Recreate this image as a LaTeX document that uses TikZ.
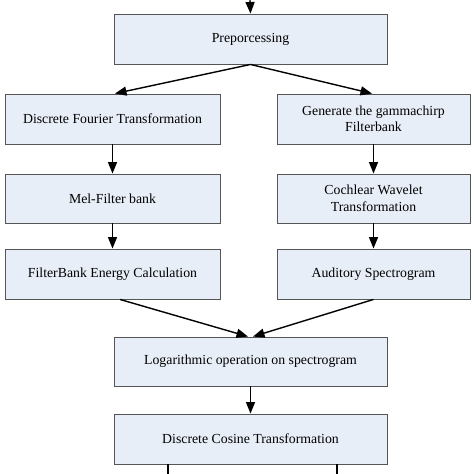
\documentclass[tikz,border=0pt]{standalone}
\usepackage{fontspec}
\setmainfont{Liberation Serif}
\usetikzlibrary{arrows.meta,calc}
\definecolor{boxfill}{HTML}{E8EEF7}
\definecolor{boxline}{HTML}{555555}
\begin{document}
\begin{tikzpicture}[x=1pt,y=-1pt,
  box/.style={draw=boxline,line width=0.9pt,fill=boxfill,minimum height=50pt,
    inner sep=0pt,align=center,font=\fontsize{13.8}{16.5}\selectfont},
  flow/.style={draw=black,line width=1.4pt,-{Triangle[length=11.5pt,width=9pt]}},
  plain/.style={draw=black,line width=1.4pt}]
\useasboundingbox (0,0) rectangle (474,474);
\node[box,minimum width=273pt] (pre) at (250.5,39) {Preporcessing};
\node[box,minimum width=215pt] (dft) at (112.5,119) {Discrete Fourier Transformation};
\node[box,minimum width=193pt] (gam) at (373.5,119) {Generate the gammachirp\\Filterbank};
\node[box,minimum width=215pt,minimum height=49pt] (mel) at (112.5,198.5) {Mel-Filter bank};
\node[box,minimum width=193pt,minimum height=49pt] (coch) at (373.5,198.5) {Cochlear Wavelet\\Transformation};
\node[box,minimum width=215pt] (fbe) at (112.5,274) {FilterBank Energy Calculation};
\node[box,minimum width=193pt] (aud) at (373.5,274) {Auditory Spectrogram};
\node[box,minimum width=273pt,minimum height=49pt] (log) at (250.5,361.5) {Logarithmic operation on spectrogram};
\node[box,minimum width=273pt] (dct) at (250.5,439) {Discrete Cosine Transformation};
\coordinate (in) at (250,0);
\coordinate (outl) at (168,474);
\coordinate (outr) at (337,474);
\draw[flow] (in) -- (pre.north);
\draw[flow] (pre.south) -- ($(dft.north)+(2.5,0)$);
\draw[flow] (pre.south) -- ($(gam.north)+(-1.5,0)$);
\draw[flow] (dft.south) -- (mel.north);
\draw[flow] (gam.south) -- (coch.north);
\draw[flow] (mel.south) -- (fbe.north);
\draw[flow] (coch.south) -- (aud.north);
\draw[flow] ($(fbe.south)+(7.5,0)$) -- ($(log.north)+(-2.5,0)$);
\draw[flow] (aud.south) -- ($(log.north)+(2.5,0)$);
\draw[flow] (log.south) -- (dct.north);
\draw[plain] (dct.south -| outl) -- (outl);
\draw[plain] (dct.south -| outr) -- (outr);
\end{tikzpicture}
\end{document}
